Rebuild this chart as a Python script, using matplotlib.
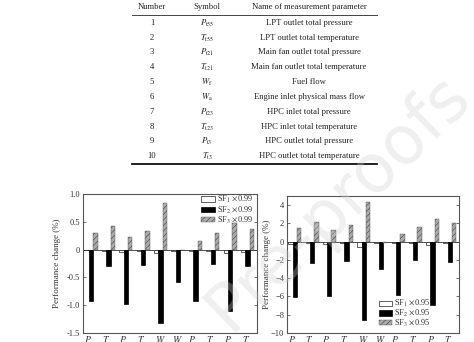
import matplotlib
matplotlib.use("Agg")
import matplotlib.pyplot as plt
from matplotlib.lines import Line2D
import numpy as np

plt.rcParams['font.family'] = ['Liberation Serif', 'DejaVu Serif']
plt.rcParams['mathtext.fontset'] = 'stix'
plt.rcParams['hatch.linewidth'] = 0.5

# ---- table data ----
numbers = ['1', '2', '3', '4', '5', '6', '7', '8', '9', '10']
symbols = [r'$P_{\mathrm{t55}}$', r'$T_{\mathrm{t55}}$', r'$P_{\mathrm{t21}}$', r'$T_{\mathrm{t21}}$',
           r'$W_{\mathrm{f}}$', r'$W_{\mathrm{a}}$', r'$P_{\mathrm{t23}}$', r'$T_{\mathrm{t23}}$',
           r'$P_{\mathrm{t3}}$', r'$T_{\mathrm{t3}}$']
names = ['LPT outlet total pressure', 'LPT outlet total temperature',
         'Main fan outlet total pressure', 'Main fan outlet total temperature',
         'Fuel flow', 'Engine inlet physical mass flow', 'HPC inlet total pressure',
         'HPC inlet total temperature', 'HPC outlet total pressure',
         'HPC outlet total temperature']
headers = ['Number', 'Symbol', 'Name of measurement parameter']

# ---- chart data ----
x_labels = [r'$P_{_{\mathrm{t55}}}$', r'$T_{_{\mathrm{t55}}}$', r'$P_{_{\mathrm{t21}}}$', r'$T_{_{\mathrm{t21}}}$',
            r'$W_{_{\mathrm{f}}}$', r'$W_{_{\mathrm{a}}}$', r'$P_{_{\mathrm{t23}}}$', r'$T_{_{\mathrm{t23}}}$',
            r'$P_{_{\mathrm{t3}}}$', r'$T_{_{\mathrm{t3}}}$']
left_sf1 = [-0.01, -0.02, -0.04, -0.03, -0.07, -0.02, -0.03, -0.03, -0.06, -0.04]
left_sf2 = [-0.93, -0.30, -0.97, -0.27, -1.32, -0.59, -0.93, -0.26, -1.10, -0.29]
left_sf3 = [0.30, 0.43, 0.22, 0.33, 0.83, -0.01, 0.15, 0.30, 0.47, 0.37]
left_legend = [r'SF$_1$ $\times$0.99', r'SF$_2$ $\times$0.99', r'SF$_3$ $\times$0.99']

right_sf1 = [-0.3, -0.15, -0.3, -0.15, -0.6, -0.15, -0.2, -0.2, -0.4, -0.2]
right_sf2 = [-6.1, -2.3, -6.0, -2.1, -8.6, -3.0, -5.8, -2.0, -6.9, -2.2]
right_sf3 = [1.5, 2.2, 1.3, 1.8, 4.3, -0.1, 0.8, 1.6, 2.5, 2.0]
right_legend = [r'SF$_1$ $\times$0.95', r'SF$_2$ $\times$0.95', r'SF$_3$ $\times$0.95']

W, H = 474, 342
fig = plt.figure(figsize=(W / 100, H / 100), dpi=100)

def fx(px):
    return px / W

def fy(py):
    return 1 - py / H

tcol = '#222222'
fs_t = 6.2
col_x = [152, 207, 309]
for cx, hd in zip(col_x, headers):
    fig.text(fx(cx), fy(7), hd, ha='center', va='center', fontsize=fs_t, color=tcol)
fig.add_artist(Line2D([fx(132), fx(377)], [fy(15), fy(15)], color='#444444', lw=0.7))
row_y = [23, 38, 52, 67, 82, 97, 112, 127, 141, 156]
for yy, n, s, nm in zip(row_y, numbers, symbols, names):
    fig.text(fx(col_x[0]), fy(yy), n, ha='center', va='center', fontsize=fs_t, color=tcol)
    fig.text(fx(col_x[1]), fy(yy), s, ha='center', va='center', fontsize=fs_t, color=tcol)
    fig.text(fx(col_x[2]), fy(yy), nm, ha='center', va='center', fontsize=fs_t, color=tcol)
fig.add_artist(Line2D([fx(132), fx(377)], [fy(164), fy(164)], color='#111111', lw=1.3))

def draw(ax, s1, s2, s3, legtxt, ylim, yticks, yticklabels, legloc, bbox, lsp):
    x = np.arange(len(s1))
    w = 0.25
    b1 = ax.bar(x - w, s1, w, color='white', edgecolor='#222222', lw=0.5, zorder=3)
    b2 = ax.bar(x, s2, w, color='black', edgecolor='black', lw=0.5, zorder=3)
    b3 = ax.bar(x + w, s3, w, color='#aaaaaa', edgecolor='#555555', hatch='//////', lw=0.3, zorder=3)
    ax.axhline(0, color='#333333', lw=0.6, zorder=2)
    ax.set_xlim(-0.46, len(s1) - 0.46)
    ax.set_ylim(*ylim)
    ax.set_yticks(yticks)
    ax.set_yticklabels(yticklabels)
    ax.set_xticks(x)
    ax.set_xticklabels(x_labels, va='top')
    ax.tick_params(axis='both', direction='in', length=2, width=0.5, labelsize=6,
                   colors='#333333', pad=2, right=True)
    ax.tick_params(axis='x', length=0, pad=1.0, labelsize=7)
    for sp in ax.spines.values():
        sp.set_color('#555555')
        sp.set_linewidth(0.8)
    ax.set_ylabel('Performance change (%)', fontsize=6.5, color='#333333', labelpad=4)
    leg = ax.legend([b1, b2, b3], legtxt, loc=legloc, bbox_to_anchor=bbox, frameon=False,
                    fontsize=6, handlelength=1.6, handleheight=0.6, handletextpad=0.25,
                    labelspacing=lsp, borderaxespad=0.0, borderpad=0.0)
    for t in leg.get_texts():
        t.set_color('#333333')

ax1 = fig.add_axes([fx(83), 1 - 333 / H, 174 / W, 139 / H])
draw(ax1, left_sf1, left_sf2, left_sf3, left_legend, (-1.5, 1.0),
     [1.0, 0.5, 0, -0.5, -1.0, -1.5], ['1.0', '0.5', '0', '-0.5', '-1.0', '-1.5'],
     'upper left', (0.68, 1.0), -0.1)

ax2 = fig.add_axes([fx(287), 1 - 333 / H, 172 / W, 137 / H])
draw(ax2, right_sf1, right_sf2, right_sf3, right_legend, (-10, 5),
     [4, 2, 0, -2, -4, -6, -8, -10], ['4', '2', '0', '\u22122', '\u22124', '\u22126', '\u22128', '\u221210'],
     'lower left', (0.535, 0.03), -0.18)
ax2.yaxis.labelpad = 0

# watermark
fig.text(fx(338), fy(202), 'Pre-proofs', rotation=44, ha='center', va='center',
         fontsize=48, family='DejaVu Sans', color='#d0d0d0', alpha=0.33, zorder=10)

fig.savefig('out.png', dpi=100)
